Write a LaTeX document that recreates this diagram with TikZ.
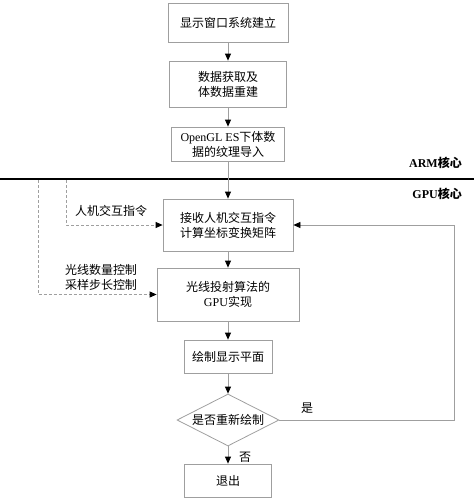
\documentclass[tikz,border=0pt]{standalone}
\usepackage{fontspec}
\setmainfont{Liberation Serif}
\newfontfamily\cjk{Noto Sans CJK SC}
\usetikzlibrary{arrows.meta,shapes.geometric}

\newcommand{\cjkfs}{\fontsize{12}{15}\selectfont\cjk}
\newcommand{\lat}[1]{{\rmfamily #1}}

\begin{document}
\begin{tikzpicture}[x=1pt, y=-1pt,
  box/.style={draw=gray!75, line width=0.8pt, align=center, inner sep=0pt, font=\cjkfs},
  decide/.style={box, diamond, aspect=2},
  line/.style={draw=gray!75, line width=0.8pt},
  arr/.style={line, -{Triangle[length=7pt, width=6pt, color=black]}},
  ctrl/.style={arr, densely dashed},
  lbl/.style={font=\cjkfs, align=left, inner sep=0pt}]
\useasboundingbox (0,0) rectangle (474,499);

% ARM side
\node[box, minimum width=120pt, minimum height=39pt] (win) at (228,22.5) {显示窗口系统建立};
\node[box, minimum width=117pt, minimum height=46pt] (load) at (228,84) {数据获取及\\体数据重建};
\node[box, minimum width=113pt, minimum height=34pt] (tex) at (228,144) {\lat{OpenGL ES}下体数\\据的纹理导入};

% core boundary
\draw[line width=1.6pt] (0,179) -- (474,179);
\node[lbl, font=\cjkfs\bfseries, anchor=east] (arm) at (462,163) {\lat{ARM}核心};
\node[lbl, font=\cjkfs\bfseries, anchor=east] (gpu) at (462,194) {\lat{GPU}核心};

% GPU side
\node[box, minimum width=130pt, minimum height=52pt] (recv) at (228,225) {接收人机交互指令\\计算坐标变换矩阵};
\node[box, minimum width=142pt, minimum height=53pt] (ray) at (228,294.5) {光线投射算法的\\\lat{GPU}实现};
\node[box, minimum width=88pt, minimum height=33pt] (plane) at (228,356.5) {绘制显示平面};
\node[decide, minimum width=102pt, minimum height=52pt] (redo) at (228,420) {是否重新绘制};
\node[box, minimum width=87pt, minimum height=33pt] (quit) at (228,480.5) {退出};

\draw[arr] (win) -- (load);
\draw[arr] (load) -- (tex);
\draw[arr] (tex) -- (recv);
\draw[arr] (recv) -- (ray);
\draw[arr] (ray) -- (plane);
\draw[arr] (plane) -- (redo);
\draw[arr] (redo) -- (quit);
\node[lbl] (no) at (245,457) {否};

% loop back
\coordinate (fb) at (454,0);
\draw[arr] (redo.east) -- (redo.east -| fb) |- (recv.east);
\node[lbl] (yes) at (307,408) {是};

% control inputs
\coordinate (c1) at (38,180);
\coordinate (c2) at (66,180);
\draw[ctrl] (c2) |- (recv.west);
\draw[ctrl] (c1) |- (ray.west);
\node[lbl] (cmd) at (111,211) {人机交互指令};
\node[lbl] (rays) at (101,277) {光线数量控制\\采样步长控制};
\end{tikzpicture}
\end{document}
